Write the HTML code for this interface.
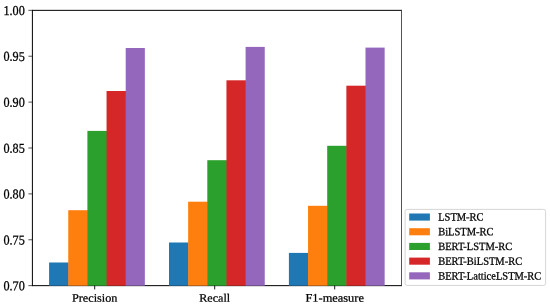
<!DOCTYPE html><html><head><meta charset="utf-8"><title>chart</title><style>html,body{margin:0;padding:0;background:#fff}svg{display:block}text{text-rendering:geometricPrecision;font-family:"Liberation Serif","Times New Roman",serif;fill:#000;stroke:#000;stroke-width:0.25px}</style></head><body>
<svg width="550" height="307" viewBox="0 0 550 307">
<rect width="550" height="307" fill="#fff"/>
<line x1="32.4" x2="32.4" y1="9.85" y2="286.15" stroke="#000" stroke-width="1"/>
<line x1="401.5" x2="401.5" y1="9.85" y2="286.15" stroke="#000" stroke-width="0.8" stroke-opacity="0.85"/>
<line x1="32.4" x2="401.5" y1="10.35" y2="10.35" stroke="#000" stroke-width="1"/>
<line x1="32.4" x2="401.5" y1="285.65" y2="285.65" stroke="#000" stroke-width="1"/>
<rect x="49.10" y="262.50" width="19.65" height="23.20" fill="#1f77b4"/>
<rect x="68.25" y="210.20" width="19.65" height="75.50" fill="#ff7f0e"/>
<rect x="87.40" y="130.90" width="19.65" height="154.80" fill="#2ca02c"/>
<rect x="106.55" y="91.00" width="19.65" height="194.70" fill="#d62728"/>
<rect x="125.70" y="48.00" width="19.15" height="237.70" fill="#9467bd"/>
<rect x="169.00" y="242.50" width="19.65" height="43.20" fill="#1f77b4"/>
<rect x="188.15" y="201.70" width="19.65" height="84.00" fill="#ff7f0e"/>
<rect x="207.30" y="160.20" width="19.65" height="125.50" fill="#2ca02c"/>
<rect x="226.45" y="80.30" width="19.65" height="205.40" fill="#d62728"/>
<rect x="245.60" y="46.90" width="19.15" height="238.80" fill="#9467bd"/>
<rect x="288.90" y="252.90" width="19.65" height="32.80" fill="#1f77b4"/>
<rect x="308.05" y="205.80" width="19.65" height="79.90" fill="#ff7f0e"/>
<rect x="327.20" y="145.80" width="19.65" height="139.90" fill="#2ca02c"/>
<rect x="346.35" y="85.70" width="19.65" height="200.00" fill="#d62728"/>
<rect x="365.50" y="47.60" width="19.15" height="238.10" fill="#9467bd"/>
<line x1="28.40" x2="32.4" y1="285.65" y2="285.65" stroke="#000" stroke-width="0.85" stroke-opacity="0.8"/>
<text transform="translate(24.75,290.30) rotate(0.03) scale(1,1.11)" font-size="12.2" text-anchor="end">0.70</text>
<line x1="28.40" x2="32.4" y1="239.77" y2="239.77" stroke="#000" stroke-width="0.85" stroke-opacity="0.8"/>
<text transform="translate(24.75,244.42) rotate(0.03) scale(1,1.11)" font-size="12.2" text-anchor="end">0.75</text>
<line x1="28.40" x2="32.4" y1="193.88" y2="193.88" stroke="#000" stroke-width="0.85" stroke-opacity="0.8"/>
<text transform="translate(24.75,198.53) rotate(0.03) scale(1,1.11)" font-size="12.2" text-anchor="end">0.80</text>
<line x1="28.40" x2="32.4" y1="148.00" y2="148.00" stroke="#000" stroke-width="0.85" stroke-opacity="0.8"/>
<text transform="translate(24.75,152.65) rotate(0.03) scale(1,1.11)" font-size="12.2" text-anchor="end">0.85</text>
<line x1="28.40" x2="32.4" y1="102.12" y2="102.12" stroke="#000" stroke-width="0.85" stroke-opacity="0.8"/>
<text transform="translate(24.75,106.77) rotate(0.03) scale(1,1.11)" font-size="12.2" text-anchor="end">0.90</text>
<line x1="28.40" x2="32.4" y1="56.23" y2="56.23" stroke="#000" stroke-width="0.85" stroke-opacity="0.8"/>
<text transform="translate(24.75,60.88) rotate(0.03) scale(1,1.11)" font-size="12.2" text-anchor="end">0.95</text>
<line x1="28.40" x2="32.4" y1="10.35" y2="10.35" stroke="#000" stroke-width="0.85" stroke-opacity="0.8"/>
<text transform="translate(24.75,15.00) rotate(0.03) scale(1,1.11)" font-size="12.2" text-anchor="end">1.00</text>
<line x1="94.70" x2="94.70" y1="285.65" y2="289.45" stroke="#000" stroke-width="0.9"/>
<text transform="translate(94.70,301.70) rotate(0.03) scale(1,0.95)" font-size="12.25" text-anchor="middle">Precision</text>
<line x1="214.70" x2="214.70" y1="285.65" y2="289.45" stroke="#000" stroke-width="0.9"/>
<text transform="translate(214.70,301.70) rotate(0.03) scale(1,0.95)" font-size="12.1" text-anchor="middle">Recall</text>
<line x1="334.70" x2="334.70" y1="285.65" y2="289.45" stroke="#000" stroke-width="0.9"/>
<text transform="translate(334.70,301.70) rotate(0.03) scale(1,0.95)" font-size="12.4" text-anchor="middle">F1-measure</text>
<rect x="405.1" y="209.4" width="140.5" height="76.05" rx="2" ry="2" fill="#fff" fill-opacity="0.8" stroke="#ccc" stroke-width="0.8"/>
<rect x="409.2" y="213.50" width="20.7" height="7.1" fill="#1f77b4"/>
<text transform="translate(438.20,220.60) rotate(0.03) scale(1,1.06)" font-size="10.48" text-anchor="start">LSTM-RC</text>
<rect x="409.2" y="228.20" width="20.7" height="7.1" fill="#ff7f0e"/>
<text transform="translate(438.20,235.30) rotate(0.03) scale(1,1.06)" font-size="10.48" text-anchor="start">BiLSTM-RC</text>
<rect x="409.2" y="242.90" width="20.7" height="7.1" fill="#2ca02c"/>
<text transform="translate(438.20,250.00) rotate(0.03) scale(1,1.06)" font-size="10.48" text-anchor="start">BERT-LSTM-RC</text>
<rect x="409.2" y="257.60" width="20.7" height="7.1" fill="#d62728"/>
<text transform="translate(438.20,264.70) rotate(0.03) scale(1,1.06)" font-size="10.48" text-anchor="start">BERT-BiLSTM-RC</text>
<rect x="409.2" y="272.30" width="20.7" height="7.1" fill="#9467bd"/>
<text transform="translate(438.20,279.40) rotate(0.03) scale(1,1.06)" font-size="10.48" text-anchor="start">BERT-LatticeLSTM-RC</text>
</svg></body></html>
